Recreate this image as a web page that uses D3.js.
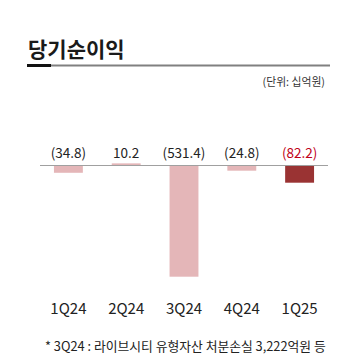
<!DOCTYPE html>
<html><head><meta charset="utf-8">
<script src="https://cdn.jsdelivr.net/npm/d3@7"></script>
<style>body{margin:0;background:#fff}svg{display:block}</style>
</head><body>
<script>
const categories = ["1Q24","2Q24","3Q24","4Q24","1Q25"];
const values = [-34.8, 10.2, -531.4, -24.8, -82.2];
const valueLabels = ["(34.8)","10.2","(531.4)","(24.8)","(82.2)"];
const highlight = [false,false,false,false,true];
const title = "당기순이익";
const unit = "(단위:  십억원)";
const footnote = "* 3Q24 : 라이브시티 유형자산 처분손실 3,222억원 등";

const W=353,H=356;
const font = "'Noto Sans CJK KR','Noto Sans',sans-serif";
const svg = d3.select("body").append("svg").attr("width",W).attr("height",H);

svg.append("text").attr("x",28).attr("y",57).attr("font-family",font).attr("font-weight",700)
  .attr("font-size",21).attr("fill","#1a1a1a").text(title);
svg.append("rect").attr("x",51).attr("y",64.5).attr("width",279).attr("height",2).attr("fill","#808080");
svg.append("rect").attr("x",27).attr("y",64).attr("width",24).attr("height",3).attr("fill","#111");
svg.append("text").attr("x",325).attr("y",86).attr("text-anchor","end").attr("font-family",font)
  .attr("font-size",10.8).attr("fill","#333").text(unit);

const x = d3.scaleBand().domain(categories).range([39.5,328.5]).paddingInner(0.5).paddingOuter(0.25);
const y = d3.scaleLinear().domain([-531.4,0]).range([276.7,165.5]);

svg.selectAll("rect.bar").data(values).join("rect").attr("class","bar")
  .attr("x",(d,i)=>x(categories[i])).attr("width",x.bandwidth())
  .attr("y",d=>y(Math.max(0,d))).attr("height",d=>Math.abs(y(d)-y(0)))
  .attr("fill",(d,i)=>highlight[i]?"#9a3333":"#e4b6b8");

svg.append("line").attr("x1",40).attr("x2",328).attr("y1",y(0)).attr("y2",y(0))
  .attr("stroke","#a0a0a0").attr("stroke-width",1);

svg.selectAll("text.vl").data(valueLabels).join("text").attr("class","vl")
  .attr("x",(d,i)=>x(categories[i])+x.bandwidth()/2).attr("y",158).attr("text-anchor","middle")
  .attr("font-family",font).attr("font-size",13.5).attr("fill",(d,i)=>highlight[i]?"#c00018":"#222").text(d=>d);

const xAxis = d3.axisBottom(x).tickSize(0).tickPadding(0);
const gx = svg.append("g").attr("transform","translate(0,303)").call(xAxis);
gx.select(".domain").remove();
gx.selectAll("text").attr("font-family",font).attr("font-size",15).attr("fill","#222");

svg.append("text").attr("x",45).attr("y",351).attr("font-family",font).attr("font-size",12.8)
  .attr("fill","#222").text(footnote);
</script>
</body></html>
